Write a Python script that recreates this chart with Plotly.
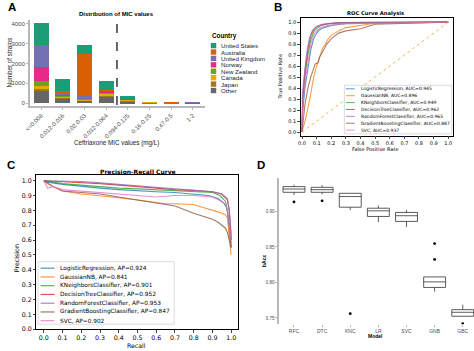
import plotly.graph_objects as go

W, H = 474, 351
def px(x): return x / W
def py(y): return 1 - y / H

# ---------------- Panel A data ----------------
mic_categories = ["<=0.008", "0.012-0.016", "0.02-0.03", "0.032-0.064",
                  "0.094-0.125", "0.16-0.25", "0.47-0.5", "1-2"]
countries = ["United States", "Australia", "United Kingdom", "Norway",
             "New Zealand", "Canada", "Japan", "Other"]
country_colors = ["#1B9E77", "#D95F02", "#7570B3", "#E7298A",
                  "#66A61E", "#E6AB02", "#A6761D", "#666666"]
n_united_states = [1120, 650, 420, 420, 100, 0, 0, 0]
n_australia = [10, 30, 2150, 20, 10, 0, 10, 0]
n_united_kingdom = [1100, 100, 100, 30, 10, 0, 0, 5]
n_norway = [700, 80, 20, 100, 10, 0, 5, 5]
n_new_zealand = [250, 30, 40, 20, 10, 0, 0, 0]
n_canada = [170, 50, 30, 100, 70, 10, 0, 0]
n_japan = [110, 50, 30, 70, 30, 10, 0, 0]
n_other = [600, 250, 130, 330, 100, 5, 5, 10]
breakpoint_position = 3.5
a_yticks = [0, 1000, 2000, 3000, 4000]

# ---------------- Panel B/C data ----------------
models = ["LogisticRegression", "GaussianNB", "KNeighborsClassifier",
          "DecisionTreeClassifier", "RandomForestClassifier",
          "GradientBoostingClassifier", "SVC"]
model_colors = ["#1f77b4", "#ff7f0e", "#2ca02c", "#d62728",
                "#9467bd", "#8c564b", "#e377c2"]
auc_values = [0.945, 0.896, 0.949, 0.962, 0.965, 0.887, 0.937]
ap_values = [0.924, 0.841, 0.901, 0.952, 0.953, 0.847, 0.902]

roc_fpr = [
    [0, 0.005, 0.02, 0.04, 0.06, 0.08, 0.1, 0.12, 0.15, 0.2, 0.3, 0.5, 0.85, 1],
    [0, 0.03, 0.06, 0.08, 0.1, 0.12, 0.14, 0.16, 0.18, 0.2, 0.25, 0.3, 0.4, 0.5, 0.85, 1],
    [0, 0.005, 0.02, 0.04, 0.06, 0.08, 0.1, 0.13, 0.18, 0.25, 1],
    [0, 0.005, 0.02, 0.04, 0.06, 0.08, 0.1, 0.14, 0.2, 0.3, 1],
    [0, 0.003, 0.01, 0.03, 0.05, 0.07, 0.09, 0.12, 0.18, 0.3, 1],
    [0, 0.02, 0.04, 0.06, 0.09, 0.11, 0.12, 0.14, 0.17, 0.2, 0.25, 0.3, 0.4, 0.5, 0.86, 1],
    [0, 0.005, 0.02, 0.04, 0.06, 0.08, 0.1, 0.13, 0.18, 0.3, 1],
]
roc_tpr = [
    [0, 0.2, 0.4, 0.6, 0.75, 0.85, 0.9, 0.93, 0.95, 0.97, 0.985, 0.99, 1, 1],
    [0, 0.15, 0.35, 0.5, 0.6, 0.68, 0.76, 0.8, 0.85, 0.88, 0.92, 0.95, 0.97, 0.99, 1, 1],
    [0, 0.25, 0.5, 0.7, 0.84, 0.91, 0.94, 0.97, 0.985, 0.995, 1],
    [0, 0.3, 0.55, 0.75, 0.88, 0.93, 0.96, 0.98, 0.99, 0.995, 1],
    [0, 0.35, 0.45, 0.7, 0.85, 0.92, 0.95, 0.97, 0.985, 0.995, 1],
    [0, 0.25, 0.4, 0.5, 0.62, 0.63, 0.68, 0.73, 0.8, 0.85, 0.9, 0.92, 0.94, 0.98, 0.99, 1],
    [0, 0.22, 0.45, 0.65, 0.8, 0.88, 0.92, 0.95, 0.97, 0.985, 1],
]
chance_line = [0, 1]

pr_recall = [
    [0, 0.02, 0.1, 0.2, 0.3, 0.4, 0.5, 0.6, 0.7, 0.8, 0.88, 0.93, 0.96, 0.975, 0.985, 0.99, 1.0],
    [0, 0.02, 0.05, 0.1, 0.2, 0.3, 0.4, 0.5, 0.55, 0.6, 0.65, 0.7, 0.75, 0.8, 0.85, 0.88, 0.9, 0.93, 0.95, 0.97, 0.98, 0.99, 1.0],
    [0, 0.05, 0.1, 0.2, 0.3, 0.4, 0.5, 0.6, 0.7, 0.8, 0.9, 0.94, 0.97, 0.98, 0.99, 1.0],
    [0, 0.1, 0.2, 0.3, 0.4, 0.5, 0.6, 0.7, 0.8, 0.9, 0.95, 0.98, 0.99, 0.995, 1.0],
    [0, 0.1, 0.2, 0.3, 0.4, 0.5, 0.6, 0.7, 0.8, 0.9, 0.95, 0.98, 0.99, 1.0, 1.0],
    [0, 0.05, 0.1, 0.2, 0.3, 0.4, 0.5, 0.6, 0.7, 0.8, 0.85, 0.9, 0.93, 0.95, 0.97, 0.98, 0.99, 1.0],
    [0, 0.01, 0.02, 0.05, 0.1, 0.2, 0.3, 0.4, 0.5, 0.55, 0.6, 0.7, 0.8, 0.9, 0.95, 0.97, 0.98, 0.99, 1.0],
]
pr_precision = [
    [1.0, 0.99, 0.975, 0.96, 0.95, 0.94, 0.93, 0.925, 0.92, 0.91, 0.9, 0.88, 0.85, 0.82, 0.75, 0.65, 0.55],
    [1.0, 0.98, 0.96, 0.93, 0.91, 0.9, 0.885, 0.87, 0.86, 0.85, 0.845, 0.845, 0.84, 0.84, 0.82, 0.81, 0.8, 0.79, 0.78, 0.77, 0.75, 0.6, 0.5],
    [1.0, 0.99, 0.98, 0.97, 0.96, 0.95, 0.945, 0.94, 0.93, 0.925, 0.92, 0.9, 0.86, 0.8, 0.7, 0.6],
    [1.0, 0.995, 0.99, 0.98, 0.97, 0.96, 0.95, 0.94, 0.935, 0.925, 0.91, 0.87, 0.8, 0.65, 0.6],
    [1.0, 1.0, 0.995, 0.985, 0.975, 0.965, 0.955, 0.945, 0.935, 0.925, 0.91, 0.88, 0.8, 0.65, 0.55],
    [1.0, 0.96, 0.93, 0.92, 0.91, 0.89, 0.87, 0.85, 0.83, 0.78, 0.76, 0.74, 0.72, 0.7, 0.68, 0.65, 0.6, 0.55],
    [1.0, 0.97, 0.95, 0.96, 0.94, 0.93, 0.92, 0.91, 0.9, 0.89, 0.89, 0.9, 0.9, 0.89, 0.86, 0.84, 0.8, 0.7, 0.6],
]

# ---------------- Panel D data ----------------
box_models = ["RFC", "DTC", "KNC", "LR", "SVC", "GNB", "GBC"]
box_q1 = [0.927, 0.927, 0.906, 0.893, 0.886, 0.793, 0.7524]
box_median = [0.9316, 0.9307, 0.921, 0.9009, 0.894, 0.8008, 0.758]
box_q3 = [0.935, 0.934, 0.9256, 0.9046, 0.8986, 0.8078, 0.7617]
box_low = [0.9232, 0.924, 0.902, 0.885, 0.878, 0.787, 0.7524]
box_high = [0.9376, 0.937, 0.926, 0.9084, 0.902, 0.8078, 0.7687]
outlier_model = ["RFC", "DTC", "KNC", "GNB", "GNB", "GBC"]
outlier_value = [0.9134, 0.915, 0.756, 0.8548, 0.8324, 0.742]
d_yticks = [0.75, 0.80, 0.85, 0.90]

# =====================================================================
fig = go.Figure()

country_values = [n_united_states, n_australia, n_united_kingdom, n_norway,
                  n_new_zealand, n_canada, n_japan, n_other]
for name, vals, col in reversed(list(zip(countries, country_values, country_colors))):
    fig.add_trace(go.Bar(x=mic_categories, y=vals, name=name,
                         marker=dict(color=col, line=dict(width=0)),
                         xaxis="x", yaxis="y"))

for i, m in enumerate(models):
    fig.add_trace(go.Scatter(x=roc_fpr[i], y=roc_tpr[i], mode="lines",
                             line=dict(color=model_colors[i], width=1.1),
                             opacity=0.75, xaxis="x2", yaxis="y2"))
fig.add_trace(go.Scatter(x=chance_line, y=chance_line, mode="lines",
                         line=dict(color="#f5a742", width=0.9, dash="dot"),
                         xaxis="x2", yaxis="y2"))

for i, m in enumerate(models):
    fig.add_trace(go.Scatter(x=pr_recall[i], y=pr_precision[i], mode="lines",
                             line=dict(color=model_colors[i], width=1.1),
                             opacity=0.8, xaxis="x3", yaxis="y3"))

for i, m in enumerate(box_models):
    fig.add_trace(go.Box(x=[m], q1=[box_q1[i]], median=[box_median[i]],
                         q3=[box_q3[i]], lowerfence=[box_low[i]],
                         upperfence=[box_high[i]], width=0.78,
                         whiskerwidth=0, fillcolor="white",
                         line=dict(color="#333333", width=0.8),
                         boxpoints=False, xaxis="x4", yaxis="y4"))
fig.add_trace(go.Scatter(x=outlier_model, y=outlier_value, mode="markers",
                         marker=dict(color="black", size=2.8),
                         xaxis="x4", yaxis="y4"))

ARIAL = "Liberation Sans, Arial, sans-serif"
DEJ = "DejaVu Sans, sans-serif"
GGTXT = "#4d4d4d"

fig.update_layout(
    width=W, height=H, margin=dict(l=0, r=0, t=0, b=0),
    paper_bgcolor="white", plot_bgcolor="white", showlegend=False,
    barmode="stack", bargap=0.3,
    xaxis=dict(domain=[px(25), px(202)], range=[-0.53, 7.56], type="category",
               showline=True, linecolor="#b8b8b8", linewidth=1.5,
               ticks="outside", ticklen=2, tickcolor="#b8b8b8", tickangle=-45,
               tickfont=dict(family=ARIAL, size=6, color=GGTXT),
               showgrid=False, zeroline=False, anchor="y"),
    yaxis=dict(domain=[py(107), py(20)], range=[-150, 4200],
               tickvals=a_yticks, showline=True, linecolor="#b8b8b8", linewidth=1.5,
               ticks="outside", ticklen=2, tickcolor="#b8b8b8",
               tickfont=dict(family=ARIAL, size=6, color=GGTXT),
               showgrid=False, zeroline=False, anchor="x"),
    xaxis2=dict(domain=[px(298.7), px(452.7)], range=[-0.01, 1.032], dtick=0.1,
                tickformat=".1f", showline=True, mirror=True, linecolor="black",
                linewidth=0.8, ticks="outside", ticklen=2.5, tickwidth=0.6,
                tickfont=dict(family=DEJ, size=5, color="black"),
                showgrid=False, zeroline=False, anchor="y2"),
    yaxis2=dict(domain=[py(136.7), py(18.3)], range=[-0.031, 1.036], dtick=0.1,
                tickformat=".1f", showline=True, mirror=True, linecolor="black",
                linewidth=0.8, ticks="outside", ticklen=2.5, tickwidth=0.6,
                tickfont=dict(family=DEJ, size=5, color="black"),
                showgrid=False, zeroline=False, anchor="x2"),
    xaxis3=dict(domain=[px(31.7), px(235)], range=[-0.04, 1.034], dtick=0.1,
                tickformat=".1f", showline=True, mirror=True, linecolor="black",
                linewidth=0.8, ticks="outside", ticklen=2.5, tickwidth=0.7,
                tickfont=dict(family=DEJ, size=6.3, color="black"),
                showgrid=False, zeroline=False, anchor="y3"),
    yaxis3=dict(domain=[py(332), py(177)], range=[0.0, 1.035], dtick=0.1,
                tickformat=".1f", showline=True, mirror=True, linecolor="black",
                linewidth=0.8, ticks="outside", ticklen=2.5, tickwidth=0.7,
                tickfont=dict(family=DEJ, size=6.3, color="black"),
                showgrid=False, zeroline=False, anchor="x3"),
    xaxis4=dict(domain=[px(277), 1.0], range=[-0.53, 6.40], type="category",
                showline=False, ticks="outside", ticklen=1.5, tickcolor="#b8b8b8",
                tickfont=dict(family=ARIAL, size=5, color=GGTXT),
                showgrid=False, zeroline=False, anchor="y4"),
    yaxis4=dict(domain=[py(327), py(180)], range=[0.7412, 0.9465],
                tickvals=d_yticks, ticktext=[f"{v:.2f}" for v in d_yticks],
                showline=True, linecolor="#b8b8b8", linewidth=1.5,
                ticks="outside", ticklen=2, tickcolor="#b8b8b8",
                tickfont=dict(family=ARIAL, size=4.5, color=GGTXT),
                showgrid=False, zeroline=False, anchor="x4"),
)

fig.add_shape(type="line", xref="x", yref="paper", x0=breakpoint_position,
              x1=breakpoint_position, y0=py(106), y1=py(20),
              line=dict(color="black", width=1.2, dash="dash"))

ann = []
def text(x, y, s, size, family=ARIAL, bold=False, color="black",
         xanchor="center", angle=0):
    ann.append(dict(x=px(x), y=py(y), xref="paper", yref="paper",
                    text=f"<b>{s}</b>" if bold else s, showarrow=False,
                    xanchor=xanchor, yanchor="middle", textangle=angle,
                    font=dict(family=family, size=size, color=color)))

# Panel letters
text(7.5, 7, "A", 11.5, bold=True)
text(276, 7, "B", 11.5, bold=True)
text(6.5, 166, "C", 11.5, bold=True)
text(258.5, 166, "D", 11.5, bold=True)

# Panel A texts
text(113, 14.5, "Distribution of MIC values", 6, bold=True)
text(112.5, 144, "Ceftriaxone MIC values (mg/L)", 6.3, color="#222222")
text(5, 63, "Number of strains", 6.3, angle=-90, color="#222222")
text(207, 36, "Country", 6.3, bold=True, xanchor="left")
for i, (c, col) in enumerate(zip(countries, country_colors)):
    yc = 46 + i * 6.47
    fig.add_shape(type="rect", xref="paper", yref="paper",
                  x0=px(208), x1=px(213.5), y0=py(yc + 2.7), y1=py(yc - 2.7),
                  fillcolor=col, line=dict(width=0))
    text(216, yc, c, 6.2, xanchor="left", color="#222222")

# Panel B texts
text(374, 13.5, "ROC Curve Analysis", 5.2, family=DEJ, bold=True)
text(374, 150, "False Positive Rate", 5, family=DEJ)
text(278, 77, "True Positive Rate", 5, family=DEJ, angle=-90)
fig.add_shape(type="rect", xref="paper", yref="paper",
              x0=px(343), x1=px(451.5), y0=py(135), y1=py(86),
              fillcolor="rgba(255,255,255,0.85)", line=dict(color="#cccccc", width=0.7))
for i, m in enumerate(models):
    yc = 89.6 + i * 6.94
    fig.add_shape(type="line", xref="paper", yref="paper",
                  x0=px(344.5), x1=px(353.5), y0=py(yc), y1=py(yc),
                  line=dict(color=model_colors[i], width=1), opacity=0.75)
    text(357.5, yc, f"{m}, AUC={auc_values[i]:.3f}", 4.5, family=DEJ, xanchor="left")

# Panel C texts
text(134, 172.5, "Precision-Recall Curve", 6, family=DEJ, bold=True)
text(133, 348, "Recall", 6.2, family=DEJ)
text(11.5, 260, "Precision", 6.3, family=DEJ, angle=-90)
fig.add_shape(type="rect", xref="paper", yref="paper",
              x0=px(33.5), x1=px(171), y0=py(327), y1=py(264),
              fillcolor="rgba(255,255,255,0.85)", line=dict(color="#cccccc", width=0.7))
for i, m in enumerate(models):
    yc = 270.5 + i * 8.83
    fig.add_shape(type="line", xref="paper", yref="paper",
                  x0=px(36), x1=px(50), y0=py(yc), y1=py(yc),
                  line=dict(color=model_colors[i], width=1.2), opacity=0.8)
    text(53.5, yc, f"{m}, AP={ap_values[i]:.3f}", 5.8, family=DEJ, xanchor="left")

# Panel D texts
text(262, 263, "bAcc", 5, bold=True, angle=-90)
text(374, 339, "Model", 5, bold=True)

fig.update_layout(annotations=ann)
fig.write_html("out.html")
